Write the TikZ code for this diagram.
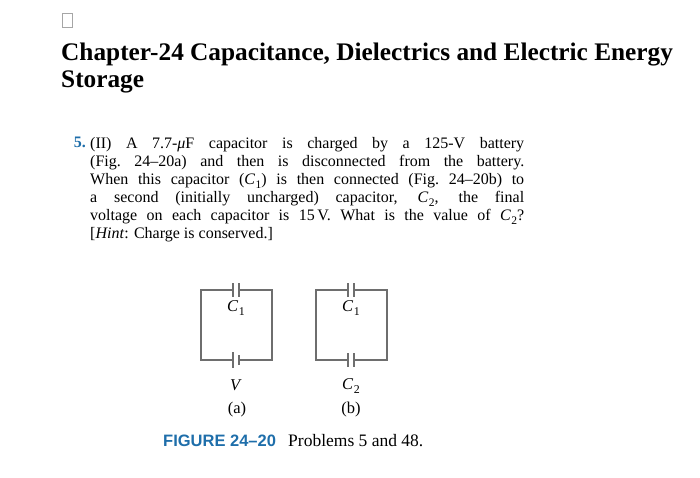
\documentclass[tikz,border=0pt]{standalone}
\usepackage{fontspec}
\setmainfont{Liberation Serif}
\newfontfamily\capsans{Liberation Sans}
\definecolor{figblue}{RGB}{30,110,170}
\definecolor{wire}{RGB}{110,110,110}
\newcommand{\Cs}[1]{\textit{C}\kern0.5pt\raisebox{-0.25em}{\scalebox{0.72}{#1}}}
\begin{document}
\begin{tikzpicture}[x=1pt,y=-1pt,
  wirestyle/.style={draw=wire,line width=1.2pt},
  lbl/.style={font=\fontsize{16.5}{18}\selectfont,inner sep=0pt}]
\useasboundingbox (0,0) rectangle (700,478);
\node[draw=gray!70,minimum width=10,minimum height=14,inner sep=0,line width=0.5pt] (box) at (67,20) {};
\node[anchor=west,inner sep=0,font=\fontsize{25.3}{28}\selectfont\bfseries] (t1) at (61,55) {Chapter-24 Capacitance, Dielectrics and Electric Energy};
\node[anchor=west,inner sep=0,font=\fontsize{25.3}{28}\selectfont\bfseries] (t2) at (61,82) {Storage};
\node[anchor=north east,inner sep=0,font=\fontsize{16}{18}\selectfont\bfseries,text=figblue] (num) at (86,137) {5.};
\node[anchor=north west,inner sep=0,text width=434pt,align=justify,font=\fontsize{16}{18}\selectfont] (para) at (90,137) {(II) A 7.7-\textit{μ}F capacitor is charged by a 125-V battery\linebreak\relax (Fig.~24–20a) and then is disconnected from the battery.\linebreak\relax When this capacitor (\Cs{1}) is then connected (Fig.~24–20b) to\linebreak\relax a second (initially uncharged) capacitor, \Cs{2}, the final\linebreak\relax voltage on each capacitor is 15\,V. What is the value of \Cs{2}?\linebreak\relax {[}\textit{Hint}: Charge is conserved.{]}};
% circuit a
\draw[wirestyle] (233,290) -- (201,290) -- (201,360) -- (233,360);
\draw[wirestyle] (239,290) -- (272,290) -- (272,360) -- (239,360);
\draw[wirestyle] (233,283) -- (233,297) (239,283) -- (239,297);
\draw[wirestyle] (233,352) -- (233,368) (239,355) -- (239,365);
\node[lbl] (ca) at (236,308) {\Cs{1}};
\node[lbl] (va) at (236,385) {\textit{V}};
\node[lbl] (la) at (237,410) {(a)};
% circuit b
\draw[wirestyle] (348,290) -- (316,290) -- (316,360) -- (348,360);
\draw[wirestyle] (354,290) -- (387,290) -- (387,360) -- (354,360);
\draw[wirestyle] (348,283) -- (348,297) (354,283) -- (354,297);
\draw[wirestyle] (348,353) -- (348,367) (354,353) -- (354,367);
\node[lbl] (cb) at (351,308) {\Cs{1}};
\node[lbl] (c2) at (351,386) {\Cs{2}};
\node[lbl] (lb) at (351,410) {(b)};
\node[anchor=west,inner sep=0,font=\capsans\fontsize{16.5}{18}\selectfont\bfseries,text=figblue] (fig) at (163,441) {FIGURE 24–20};
\node[anchor=west,inner sep=0,font=\fontsize{17.5}{18}\selectfont] (prob) at (288,441) {Problems 5 and 48.};
\end{tikzpicture}
\end{document}
